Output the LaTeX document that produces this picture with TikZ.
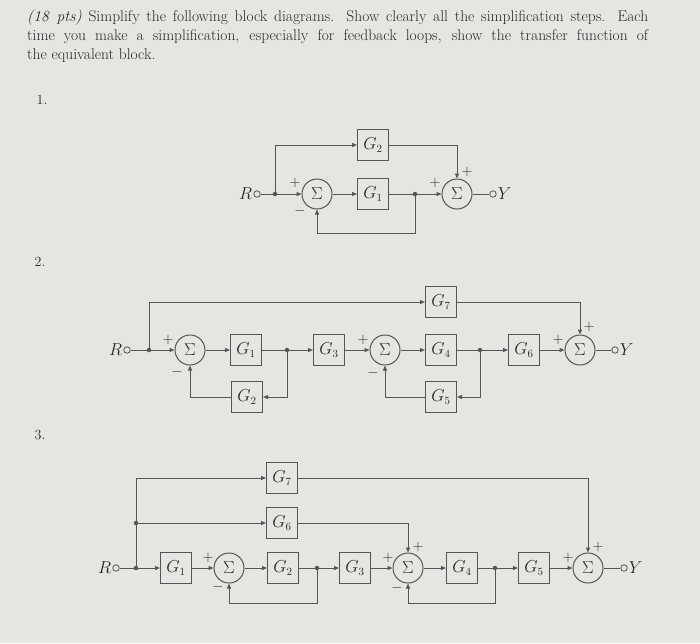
\documentclass[tikz,border=0pt]{standalone}
\usetikzlibrary{arrows.meta}
\definecolor{paper}{RGB}{229,229,225}
\definecolor{ink}{RGB}{40,40,40}
\definecolor{wire}{RGB}{85,85,85}
\begin{document}
\begin{tikzpicture}[x=1pt, y=-1pt,
  every node/.style={text=ink},
  block/.style={draw=wire, line width=1pt, minimum width=31pt, minimum height=31pt, inner sep=0pt, font=\fontsize{16}{16}\selectfont},
  sumnode/.style={draw=wire, circle, line width=1pt, minimum size=30pt, inner sep=0pt, font=\fontsize{17}{17}\selectfont},
  dotnode/.style={circle, fill=wire, inner sep=0pt, minimum size=4.5pt},
  port/.style={circle, draw=wire, fill=paper, inner sep=0pt, minimum size=6.5pt, line width=0.8pt},
  lbl/.style={inner sep=1pt, font=\fontsize{16}{16}\selectfont},
  sgn/.style={inner sep=0pt, font=\fontsize{14}{14}\selectfont},
  plain/.style={draw=wire, line width=1pt},
  sig/.style={plain, -{Triangle[length=5pt,width=4pt]}}]
  \fill[paper] (0,0) rectangle (700,643);

  \node [anchor=north west, text width=621pt, align=justify, inner sep=0pt,
    font=\fontsize{15.5}{19}\selectfont] (task) at (27,10)
    {\textit{(18 pts)} Simplify the following block diagrams. Show clearly all the simplification steps. Each\linebreak
     time you make a simplification, especially for feedback loops, show the transfer function of\linebreak
     the equivalent block.};
  \node [font=\fontsize{14}{14}\selectfont] (n1) at (42,100) {1.};
  \node [font=\fontsize{14}{14}\selectfont] (n2) at (40,262) {2.};
  \node [font=\fontsize{14}{14}\selectfont] (n3) at (40,435) {3.};

  % diagram 1
  \node [port] (in1) at (257,194) {};
  \node [lbl, anchor=east] (r1) at (in1.west) {$R$};
  \node [dotnode] (ja) at (275,194) {};
  \node [sumnode] (sa) at (317,194) {$\Sigma$};
  \node [block] (ga1) at (373,194) {$G_1$};
  \node [block] (ga2) at (373,145) {$G_2$};
  \node [dotnode] (jb) at (415,194) {};
  \node [sumnode] (sb) at (457,194) {$\Sigma$};
  \node [port] (out1) at (493,194) {};
  \node [lbl, anchor=west] (y1) at (out1.east) {$Y$};
  \node [sgn] (pa1) at (295,183) {$+$};
  \node [sgn] (ma1) at (300,211) {$-$};
  \node [sgn] (pb1) at (435,183) {$+$};
  \node [sgn] (pb2) at (467,172) {$+$};

  \draw [plain] (in1) -- (ja);
  \draw [sig] (ja) -- (sa);
  \draw [sig] (ja) |- (ga2);
  \draw [sig] (sa) -- (ga1);
  \draw [plain] (ga1) -- (jb);
  \draw [sig] (jb) -- (sb);
  \draw [sig] (jb) -- ++(0,39) -| (sa);
  \draw [sig] (ga2) -| (sb);
  \draw [plain] (sb) -- (out1);

  % diagram 2
  \node [port] (in2) at (127,350) {};
  \node [lbl, anchor=east] (r2) at (in2.west) {$R$};
  \node [dotnode] (jc) at (149,350) {};
  \node [sumnode] (sc) at (190,350) {$\Sigma$};
  \node [block] (gb1) at (246,350) {$G_1$};
  \node [dotnode] (jd) at (287,350) {};
  \node [block] (gb2) at (247,397) {$G_2$};
  \node [block] (gb3) at (329,350) {$G_3$};
  \node [sumnode] (sd) at (385,350) {$\Sigma$};
  \node [block] (gb4) at (441,350) {$G_4$};
  \node [block] (gb7) at (441,302) {$G_7$};
  \node [dotnode] (je) at (480,350) {};
  \node [block] (gb5) at (441,397) {$G_5$};
  \node [block] (gb6) at (524,350) {$G_6$};
  \node [sumnode] (se) at (580,350) {$\Sigma$};
  \node [port] (out2) at (615,350) {};
  \node [lbl, anchor=west] (y2) at (out2.east) {$Y$};
  \node [sgn] (pc1) at (168,340) {$+$};
  \node [sgn] (mc1) at (177,372) {$-$};
  \node [sgn] (pd1) at (363,340) {$+$};
  \node [sgn] (md1) at (373,373) {$-$};
  \node [sgn] (pe1) at (558,340) {$+$};
  \node [sgn] (pe2) at (589,327) {$+$};

  \draw [plain] (in2) -- (jc);
  \draw [sig] (jc) -- (sc);
  \draw [sig] (jc) |- (gb7);
  \draw [sig] (sc) -- (gb1);
  \draw [plain] (gb1) -- (jd);
  \draw [sig] (jd) -- (gb3);
  \draw [sig] (jd) |- (gb2);
  \draw [sig] (gb2) -| (sc);
  \draw [sig] (gb3) -- (sd);
  \draw [sig] (sd) -- (gb4);
  \draw [plain] (gb4) -- (je);
  \draw [sig] (je) -- (gb6);
  \draw [sig] (je) |- (gb5);
  \draw [sig] (gb5) -| (sd);
  \draw [sig] (gb6) -- (se);
  \draw [sig] (gb7) -| (se);
  \draw [plain] (se) -- (out2);

  % diagram 3
  \node [port] (in3) at (116,568) {};
  \node [lbl, anchor=east] (r3) at (in3.west) {$R$};
  \node [dotnode] (jf) at (136,568) {};
  \node [dotnode] (jg) at (136,523) {};
  \node [block] (gc1) at (176,568) {$G_1$};
  \node [sumnode] (sf) at (229,568) {$\Sigma$};
  \node [block] (gc2) at (283,568) {$G_2$};
  \node [dotnode] (jh) at (317,568) {};
  \node [block] (gc3) at (355,568) {$G_3$};
  \node [sumnode] (sg) at (408,568) {$\Sigma$};
  \node [block] (gc4) at (462,568) {$G_4$};
  \node [dotnode] (ji) at (495,568) {};
  \node [block] (gc5) at (534,568) {$G_5$};
  \node [sumnode] (sh) at (588,568) {$\Sigma$};
  \node [port] (out3) at (624,568) {};
  \node [lbl, anchor=west] (y3) at (out3.east) {$Y$};
  \node [block] (gc7) at (282,478) {$G_7$};
  \node [block] (gc6) at (282,523) {$G_6$};
  \node [sgn] (pf1) at (208,558) {$+$};
  \node [sgn] (mf1) at (218,587) {$-$};
  \node [sgn] (pg1) at (388,558) {$+$};
  \node [sgn] (mg1) at (397,588) {$-$};
  \node [sgn] (pg2) at (418,547) {$+$};
  \node [sgn] (ph1) at (568,558) {$+$};
  \node [sgn] (ph2) at (598,547) {$+$};

  \draw [plain] (in3) -- (jf);
  \draw [plain] (jf) -- (jg);
  \draw [sig] (jg) |- (gc7);
  \draw [sig] (jg) -- (gc6);
  \draw [sig] (jf) -- (gc1);
  \draw [sig] (gc1) -- (sf);
  \draw [sig] (sf) -- (gc2);
  \draw [plain] (gc2) -- (jh);
  \draw [sig] (jh) -- (gc3);
  \draw [sig] (jh) -- ++(0,35) -| (sf);
  \draw [sig] (gc3) -- (sg);
  \draw [sig] (gc6) -| (sg);
  \draw [sig] (sg) -- (gc4);
  \draw [plain] (gc4) -- (ji);
  \draw [sig] (ji) -- (gc5);
  \draw [sig] (ji) -- ++(0,35) -| (sg);
  \draw [sig] (gc5) -- (sh);
  \draw [sig] (gc7) -| (sh);
  \draw [plain] (sh) -- (out3);
\end{tikzpicture}
\end{document}
